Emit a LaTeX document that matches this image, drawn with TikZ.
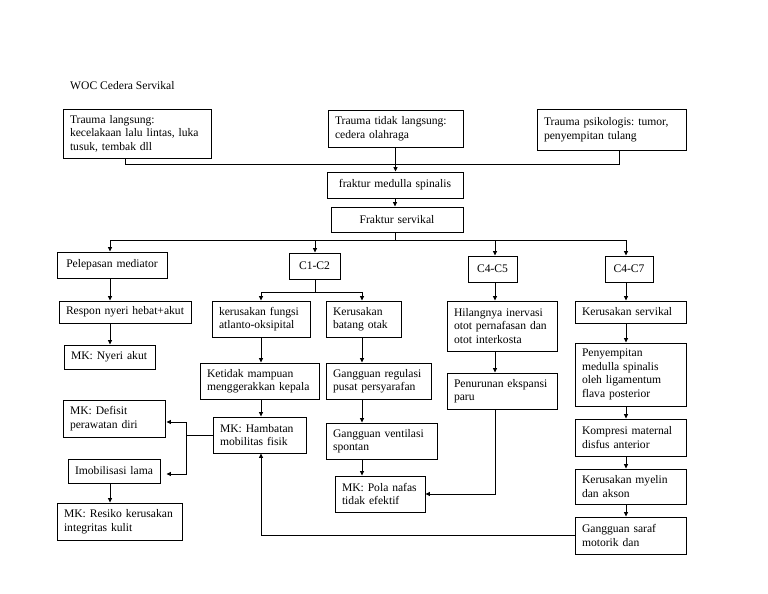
\documentclass[tikz,border=0pt]{standalone}
\usepackage{fontspec}
\setmainfont{Liberation Serif}
\usetikzlibrary{arrows.meta}
\begin{document}
\frenchspacing
\begin{tikzpicture}[x=1pt,y=-1pt,
  box/.style={draw, line width=0.9pt, inner xsep=7pt, inner ysep=2pt, font=\fontsize{11.6}{13.5}\selectfont},
  ln/.style={line width=0.8pt},
  arr/.style={line width=0.8pt, -{Triangle[length=4.5pt,width=4pt]}}]
\useasboundingbox (0,0) rectangle (768,594);
\fill[white] (0,0) rectangle (768,594);
\node[anchor=base west, inner sep=0pt, font=\fontsize{11.6}{13.5}\selectfont] (title) at (70,89) {WOC Cedera Servikal};
% top row
\node[box, text width=134pt, minimum height=49pt, align=left] (A) at (137,133.5) {Trauma langsung:\\kecelakaan lalu lintas, luka\\tusuk, tembak dll};
\node[box, text width=121pt, minimum height=37pt, align=left] (B) at (395.5,128.5) {Trauma tidak langsung:\\cedera olahraga};
\node[box, text width=135pt, minimum height=41pt, align=left] (C) at (611.5,129.5) {Trauma psikologis: tumor,\\penyempitan tulang};
\node[box, text width=122pt, minimum height=26pt, align=center] (D) at (395,185) {fraktur medulla spinalis};
\node[box, text width=118pt, minimum height=25pt, align=center] (E) at (397,219.5) {Fraktur servikal};
% level 2
\node[box, text width=96pt, minimum height=26pt, align=center] (F) at (112,265) {Pelepasan mediator};
\node[box, text width=37pt, minimum height=26pt, align=center] (G) at (314.5,266) {C1-C2};
\node[box, text width=35pt, minimum height=26pt, align=center] (H) at (492.5,269) {C4-C5};
\node[box, text width=34pt, minimum height=26pt, align=center] (I) at (629,269) {C4-C7};
% left column
\node[box, inner xsep=3pt, text width=126pt, minimum height=22pt, align=center] (J) at (125,312) {Respon nyeri hebat+akut};
\node[box, text width=77pt, minimum height=24pt, align=left] (K) at (109.5,357) {MK: Nyeri akut};
\node[box, text width=88pt, minimum height=37pt, align=left] (Z) at (114,418.5) {MK: Defisit\\perawatan diri};
\node[box, text width=78pt, minimum height=24pt, align=center] (AA) at (114,471) {Imobilisasi lama};
\node[box, text width=111pt, minimum height=37pt, align=left] (AB) at (119.5,521.5) {MK: Resiko kerusakan\\integritas kulit};
% C1-C2 branch
\node[box, text width=84pt, minimum height=36pt, align=left] (L) at (261,319) {kerusakan fungsi\\atlanto-oksipital};
\node[box, text width=61pt, minimum height=36pt, align=left] (M) at (363.5,319) {Kerusakan\\batang otak};
\node[box, text width=105pt, minimum height=36pt, align=left] (N) at (259.5,381) {Ketidak mampuan\\menggerakkan kepala};
\node[box, text width=91pt, minimum height=36pt, align=left] (O) at (378.5,381) {Gangguan regulasi\\pusat persyarafan};
\node[box, text width=79pt, minimum height=36pt, align=left] (P) at (259.5,435) {MK: Hambatan\\mobilitas fisik};
\node[box, text width=97pt, minimum height=36pt, align=left] (Q) at (381.5,441) {Gangguan ventilasi\\spontan};
\node[box, text width=76pt, minimum height=36pt, align=left] (R) at (380,494) {MK: Pola nafas\\tidak efektif};
% C4-C5 branch
\node[box, text width=96pt, minimum height=50pt, align=left] (S) at (502,326) {Hilangnya inervasi\\otot pernafasan dan\\otot interkosta};
\node[box, text width=96pt, minimum height=36pt, align=left] (T) at (502,391) {Penurunan ekspansi\\paru};
% C4-C7 branch
\node[box, text width=97pt, minimum height=22pt, align=left] (U) at (630.5,312) {Kerusakan servikal};
\node[box, text width=97pt, minimum height=63pt, align=left] (V) at (630.5,374.5) {Penyempitan\\medulla spinalis\\oleh ligamentum\\flava posterior};
\node[box, text width=97pt, minimum height=37pt, align=left] (W) at (630.5,437.5) {Kompresi maternal\\disfus anterior};
\node[box, text width=97pt, minimum height=35pt, align=left] (X) at (630.5,486.5) {Kerusakan myelin\\dan akson};
\node[box, text width=97pt, minimum height=37pt, align=left] (Y) at (630.5,535.5) {Gangguan saraf\\motorik dan};
% helper coordinates
\coordinate (j1) at (395,164);
\coordinate (busL) at (110,240);
\coordinate (busG) at (315,240);
\coordinate (busM) at (395,240);
\coordinate (busH) at (495,240);
\coordinate (busR) at (626,240);
\coordinate (g1) at (315,292);
\coordinate (x261) at (261,0);
\coordinate (x362) at (362,0);
\coordinate (p1) at (186,437);
% top connectors
\draw[ln] ([xshift=-12pt]A.south) |- (j1);
\draw[ln] ([xshift=7.5pt]C.south) |- (j1);
\draw[arr] (B.south) -- (B.south |- D.north);
\draw[arr] (D.south) -- (D.south |- E.north);
\draw[ln] (D.south |- E.south) -- (busM);
\draw[ln] (busL) -- (busR);
\draw[arr] (busL) -- (busL |- F.north);
\draw[arr] (busG) -- (busG |- G.north);
\draw[arr] (busH) -- (busH |- H.north);
\draw[arr] (busR) -- (busR |- I.north);
% left column
\draw[arr] (F.south -| busL) -- (J.north -| busL);
\draw[arr] (J.south -| busL) -- (K.north -| busL);
\draw[arr] (AA.south -| busL) -- (AB.north -| busL);
% C1-C2
\draw[ln] (G.south -| g1) -- (g1);
\draw[arr] (g1) -| (L.north -| x261);
\draw[arr] (g1) -| (M.north -| x362);
\draw[arr] (L.south -| x261) -- (N.north -| x261);
\draw[arr] (N.south -| x261) -- (P.north -| x261);
\draw[arr] (M.south -| x362) -- (O.north -| x362);
\draw[arr] (O.south -| x362) -- (Q.north -| x362);
\draw[arr] (Q.south -| x362) -- (R.north -| x362);
% P to left
\draw[ln] (P.west) -- (P.west -| p1);
\draw[arr] (P.west -| p1) |- ([xshift=1pt,yshift=-3.5pt]Z.east);
\draw[arr] (P.west -| p1) |- ([xshift=6pt,yshift=-3pt]AA.east);
% C4-C5
\draw[arr] (H.south -| busH) -- (S.north -| busH);
\draw[arr] (S.south -| busH) -- (T.north -| busH);
\draw[arr] (T.south -| busH) |- (R.east);
% C4-C7
\draw[arr] (I.south -| busR) -- (U.north -| busR);
\draw[arr] (U.south -| busR) -- (V.north -| busR);
\draw[arr] (V.south -| busR) -- (W.north -| busR);
\draw[arr] (W.south -| busR) -- (X.north -| busR);
\draw[arr] (X.south -| busR) -- (Y.north -| busR);
\draw[arr] (Y.west) -| (P.south -| x261);
\end{tikzpicture}
\end{document}
